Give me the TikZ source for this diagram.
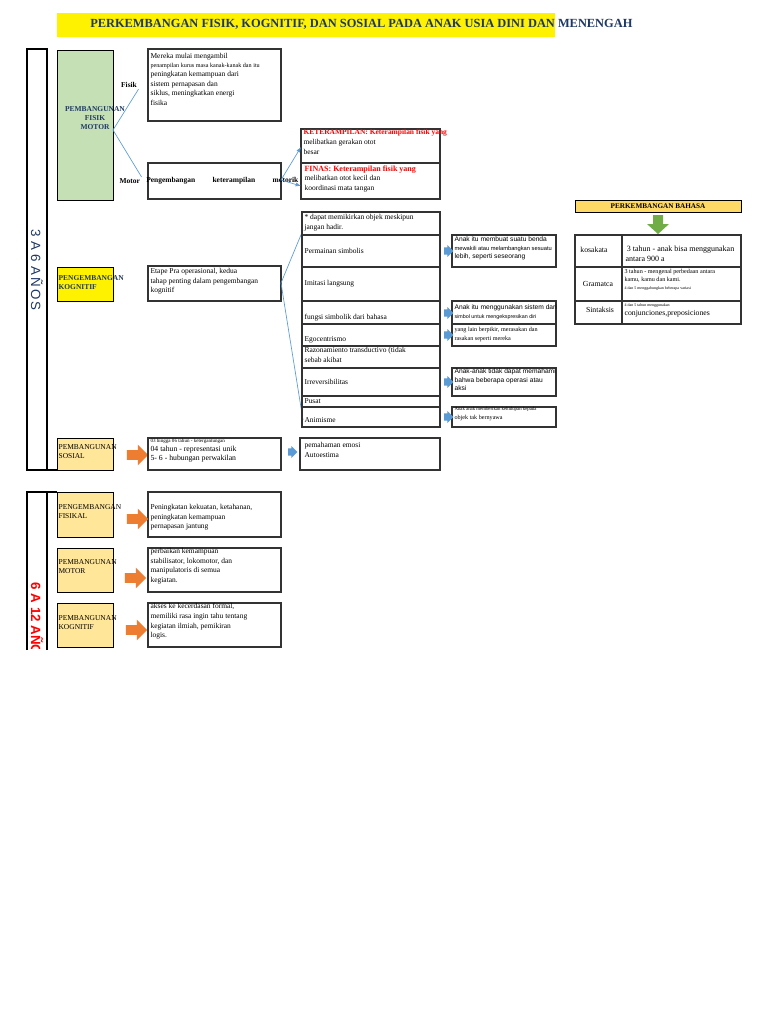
\documentclass[tikz,border=0pt]{standalone}
\usepackage{fontspec}
\setmainfont{Liberation Serif}
\newfontfamily\sans{Liberation Sans}
\usetikzlibrary{shapes.arrows,arrows.meta}
\definecolor{dblue}{RGB}{31,56,100}
\definecolor{lgreen}{RGB}{197,224,180}
\definecolor{lorange}{RGB}{255,230,153}
\definecolor{gold}{RGB}{255,217,102}
\definecolor{oarrow}{RGB}{237,125,49}
\definecolor{barrow}{RGB}{91,155,213}
\definecolor{garrow}{RGB}{112,173,71}
\begin{document}
\begin{tikzpicture}[x=0.75pt,y=-0.75pt,
 bx/.style={draw=black!80,line width=0.9pt},
 tx/.style={anchor=north west,inner sep=1pt,align=left,font=\fontsize{5.6}{7.2}\selectfont},
 cat/.style={anchor=north west,inner sep=1pt,align=left,font=\fontsize{5.6}{7}\selectfont},
 oarr/.style={single arrow,fill=oarrow,draw=none,minimum height=16pt,inner xsep=0pt,inner ysep=3.5pt,single arrow head extend=4pt,font=\fontsize{1}{1}\selectfont},
 barr/.style={single arrow,fill=barrow,draw=none,minimum height=7pt,inner xsep=0pt,inner ysep=2.5pt,single arrow head extend=1.8pt,font=\fontsize{1}{1}\selectfont},
 bl/.style={barrow,line width=0.5pt}]
\useasboundingbox (0,0) rectangle (768,1024);
\fill[white] (0,0) rectangle (768,1024);
% title
\fill[yellow] (57,13) rectangle (555,37);
\node[anchor=west,inner sep=0,font=\bfseries\fontsize{9.3}{11}\selectfont,text=dblue] (title) at (90,24) {PERKEMBANGAN FISIK, KOGNITIF, DAN SOSIAL PADA ANAK USIA DINI DAN MENENGAH};
% frame 1
\draw[line width=0.9pt] (27,49) rectangle (47,470);
\draw[line width=0.9pt] (47,470) -- (57,470);
\node[rotate=-90,font=\sans\fontsize{10}{10}\selectfont,text=dblue] (age1) at (37,270) {3\,\,A\,\,6\,\,A\,Ñ\,O\,S};
% fisik motor
\fill[lgreen] (57,50) rectangle (113,200);
\draw[line width=0.7pt] (57,50) rectangle (113,200);
\node[align=center,font=\bfseries\fontsize{5.6}{7}\selectfont,text=dblue] (pfm) at (95,118) {PEMBANGUNAN\\FISIK\\MOTOR};
\node[font=\bfseries\fontsize{5.6}{7}\selectfont,inner sep=1pt] (fisik) at (129,85) {Fisik};
\node[font=\bfseries\fontsize{5.6}{7}\selectfont,inner sep=1pt,anchor=west] (motor) at (118,181) {Motor};
\coordinate (pfmr) at (113,130);
\draw[bl] (pfmr) -- (fisik.south east);
\draw[bl] (pfmr) -- (motor.north east);
\draw[bx] (148,49) rectangle (281,121);
\node[tx] (b1) at (149,52) {Mereka mulai mengambil\\[-1pt]{\fontsize{4.6}{6}\selectfont penampilan kurus masa kanak-kanak dan itu}\\peningkatan kemampuan dari\\sistem pernapasan dan\\siklus, meningkatkan energi\\fisika};
\draw[bx] (148,163) rectangle (281,199);
\node[anchor=west,inner sep=0,font=\bfseries\fontsize{5.6}{7}\selectfont] (pkm) at (146,181) {Pengembangan\hspace{13pt}keterampilan\hspace{13pt}motorik};
\coordinate (pkmr) at (281,180);
\draw[bx] (301,129) rectangle (440,163);
\draw[bx] (301,163) rectangle (440,199);
\node[tx] (ket) at (302,128) {{\color{red}\bfseries KETERAMPILAN: Keterampilan fisik yang}\\melibatkan gerakan otot\\besar};
\node[tx] (fin) at (303,164) {{\color{red}\bfseries\fontsize{6}{7}\selectfont FINAS: Keterampilan fisik yang}\\melibatkan otot kecil dan\\koordinasi mata tangan};
\draw[bl,-{Latex[length=4pt]}] (pkmr) -- (301,147);
\draw[bl,-{Latex[length=4pt]}] (pkmr) -- (301,186);
% kognitif
\fill[yellow] (57,267) rectangle (113,301);
\draw[line width=0.7pt] (57,267) rectangle (113,301);
\node[cat,font=\bfseries\fontsize{5.6}{7}\selectfont,text=dblue] (kog) at (57,274) {PENGEMBANGAN\\KOGNITIF};
\draw[bx] (148,266) rectangle (281,301);
\node[tx] (etape) at (149,267) {Etape Pra operasional, kedua\\tahap penting dalam pengembangan\\kognitif};
\coordinate (etr) at (281,283);
\draw[bl] (etr) -- (303,230);
\draw[bl] (etr) -- (303,420);
\foreach \a/\b in {212/235,235/267,267/301,301/324,324/346,346/368,368/396,396/407,407/427}
  \draw[bx] (302,\a) rectangle (440,\b);
\node[tx] (s1) at (303,213) {* dapat memikirkan objek meskipun\\jangan hadir.};
\node[tx,anchor=west] (s2) at (303,251) {Permainan simbolis};
\node[tx,anchor=west] (s3) at (303,284) {Imitasi langsung};
\node[tx,anchor=west] (s4) at (303,318) {fungsi simbolik dari bahasa};
\node[tx,anchor=west] (s5) at (303,340) {Egocentrismo};
\node[tx] (s6) at (303,346) {Razonamiento transductivo (tidak\\sebab akibat};
\node[tx,anchor=west] (s7) at (303,382) {Irreversibilitas};
\node[tx,anchor=west] (s8) at (303,401) {Pusat};
\node[tx,anchor=west] (s9) at (303,420) {Animisme};
\foreach \a/\b in {235/267,301/324,324/346,368/396,407/427}
  \draw[bx] (452,\a) rectangle (556,\b);
\node[tx,font=\sans\fontsize{5}{6.5}\selectfont] (r1) at (453,235) {Anak itu membuat suatu benda\\{\fontsize{4.3}{5.5}\selectfont mewakili atau melambangkan sesuatu}\\lebih, seperti seseorang};
\node[tx,font=\sans\fontsize{5}{6.5}\selectfont] (r2) at (453,303) {Anak itu menggunakan sistem dari\\{\fontsize{4}{5}\selectfont simbol untuk mengekspresikan diri}};
\node[tx,font=\fontsize{4.6}{6.5}\selectfont] (r3) at (453,326) {yang lain berpikir, merasakan dan\\rasakan seperti mereka};
\node[tx,font=\sans\fontsize{5}{6.5}\selectfont] (r4) at (453,367) {Anak-anak tidak dapat memahami\\bahwa beberapa operasi atau\\aksi};
\node[tx,font=\fontsize{4.6}{6.5}\selectfont] (r5) at (453,406) {{\fontsize{3.6}{4.5}\selectfont Anak anak memberikan kehidupan kepada}\\objek tak bernyawa};
\foreach \y/\n in {251/ba1,313/ba2,335/ba3,382/ba4,417/ba5}
  \node[barr] (\n) at (447,\y) {};
% bahasa
\fill[gold] (575,200) rectangle (741,212);
\draw[line width=0.7pt] (575,200) rectangle (741,212);
\node[font=\bfseries\fontsize{5.4}{6}\selectfont] (bh) at (658,206) {PERKEMBANGAN BAHASA};
\coordinate (ga) at (658,215);
\fill[garrow] (ga) ++(-5,0) -- ++(10,0) -- ++(0,9) -- ++(6,0) -- (658,234) -- (647,224) -- ++(6,0) -- cycle;
\draw[bx] (575,235) rectangle (741,324);
\draw[bx] (575,267) -- (741,267);
\draw[bx] (575,301) -- (741,301);
\draw[bx] (622,235) -- (622,324);
\node[font=\fontsize{5.8}{7}\selectfont] (k1) at (594,250) {kosakata};
\node[tx,font=\fontsize{6}{8}\selectfont] (k2) at (624,244) {\,3 tahun - anak bisa menggunakan\\antara 900 a};
\node[font=\fontsize{5.8}{7}\selectfont] (g1) at (598,284) {Gramatca};
\node[tx,font=\fontsize{4.6}{6}\selectfont] (g2) at (623,268) {3 tahun - mengenal perbedaan antara\\kamu, kamu dan kami.\\{\fontsize{3}{5}\selectfont 4 dan 5 menggabungkan beberapa variasi}};
\node[font=\fontsize{5.8}{7}\selectfont] (t1) at (600,310) {Sintaksis};
\node[tx,font=\fontsize{5.8}{7}\selectfont] (t2) at (623,302) {{\fontsize{3}{4}\selectfont 4 dan 5 tahun menggunakan}\\conjunciones,preposiciones};
% sosial
\fill[lorange] (57,438) rectangle (113,470);
\draw[line width=0.7pt] (57,438) rectangle (113,470);
\node[cat] (sos) at (57,443) {PEMBANGUNAN\\SOSIAL};
\node[oarr] (oa1) at (135,455) {};
\draw[bx] (148,438) rectangle (281,470);
\node[tx,font=\fontsize{5.8}{7}\selectfont] (sb) at (149,437) {{\fontsize{3.8}{5}\selectfont 03 hingga 06 tahun - ketergantungan}\\04 tahun - representasi unik\\5- 6 - hubungan perwakilan};
\node[barr] (ba6) at (291,452) {};
\draw[bx] (300,438) rectangle (440,470);
\node[tx] (emo) at (303,441) {pemahaman emosi\\Autoestima};
% frame 2
\draw[line width=0.9pt] (27,650) -- (27,492) -- (47,492) -- (47,650);
\draw[line width=0.9pt] (47,492) -- (57,492);
\begin{scope}
\clip (27,492) rectangle (47,648);
\node[rotate=-90,anchor=west,font=\sans\bfseries\fontsize{10}{10}\selectfont,text=red] (age2) at (37,578) {6 A 12 AÑOS};
\end{scope}
\foreach \a/\b/\n in {492/537/c1,548/592/c2,603/647/c3}{
  \fill[lorange] (57,\a) rectangle (113,\b);
  \draw[line width=0.7pt] (57,\a) rectangle (113,\b);
  \draw[bx] (148,\a) rectangle (281,\b);
}
\node[cat] (c1t) at (57,503) {PENGEMBANGAN\\FISIKAL};
\node[cat] (c2t) at (57,558) {PEMBANGUNAN\\MOTOR};
\node[cat] (c3t) at (57,614) {PEMBANGUNAN\\KOGNITIF};
\node[oarr] (oa2) at (135,519) {};
\node[oarr] (oa3) at (133,578) {};
\node[oarr] (oa4) at (134,630) {};
\node[tx] (d1) at (149,503) {Peningkatan kekuatan, ketahanan,\\peningkatan kemampuan\\pernapasan jantung};
\node[tx] (d2) at (149,547) {perbaikan kemampuan\\stabilisator, lokomotor, dan\\manipulatoris di semua\\kegiatan.};
\node[tx] (d3) at (149,602) {akses ke kecerdasan formal,\\memiliki rasa ingin tahu tentang\\kegiatan ilmiah, pemikiran\\logis.};
\end{tikzpicture}
\end{document}
